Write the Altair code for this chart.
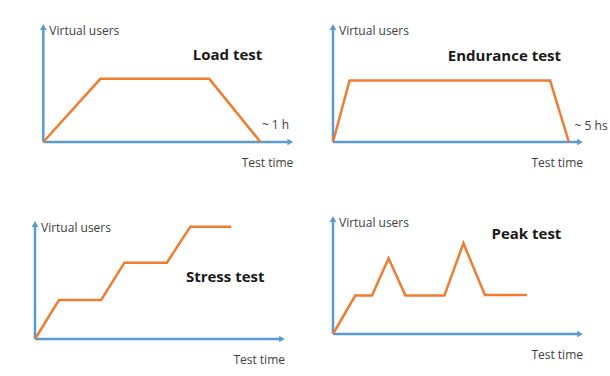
import altair as alt
import pandas as pd

FONT = "Open Sans"
ORANGE = "#ED7D31"
BLUE = "#5B9BD5"
GRAY = "#404040"
DARK = "#1A1A1A"

# ---- data (time and users as % of each axis length) ----
LOAD_T = [0, 23.1, 67.2, 87.9]
LOAD_U = [0, 54.9, 54.9, 0]

END_T = [0, 6.7, 87.9, 95.5]
END_U = [0, 53.4, 53.4, 0]

STRESS_T = [0, 9.7, 26.8, 36.2, 53.4, 62.9, 79.5]
STRESS_U = [0, 33.9, 33.9, 66.4, 66.4, 97.7, 97.7]

PEAK_T = [0, 9.0, 15.8, 22.5, 29.3, 45.1, 52.8, 61.5, 78.5]
PEAK_U = [0, 33.4, 33.4, 65.8, 33.4, 33.4, 78.9, 33.9, 33.9]

TITLES = ["Load test", "Endurance test", "Stress test", "Peak test"]
TITLE_T = [74.6, 69.4, 77.0, 78.3]
TITLE_U = [71.6, 70.7, 49.6, 83.0]

NOTES = ["~ 1 h", "~ 5 hs"]
NOTE_T = [88.5, 97.8]
NOTE_U = [11.0, 10.4]

AXIS_END = 100
Y_TITLE = "Virtual users"
X_TITLE = "Test time"

W, H = 247, 115


def panel(ts, us, title, title_t, title_u, note=None, note_t=None, note_u=None, x_lo=0.0):
    xs = alt.Scale(domain=[x_lo, AXIS_END], nice=False, zero=False)
    ys = alt.Scale(domain=[0, AXIS_END], nice=False, zero=False)

    def X(f):
        return alt.X(f, type="quantitative", scale=xs, axis=None)

    def Y(f):
        return alt.Y(f, type="quantitative", scale=ys, axis=None)

    # axes (rules) and arrowheads
    axis_df = pd.DataFrame({"t": [0, 0], "u": [0, 0],
                            "t2": [AXIS_END, 0], "u2": [0, AXIS_END]})
    axes = alt.Chart(axis_df).mark_rule(color=BLUE, strokeWidth=2.5).encode(
        x=X("t"), y=Y("u"), x2=alt.X2("t2"), y2=alt.Y2("u2")
    )
    arrow_df = pd.DataFrame({"t": [AXIS_END, 0], "u": [0, AXIS_END],
                             "shape": ["triangle-right", "triangle-up"]})
    arrows = alt.Chart(arrow_df).mark_point(
        filled=True, color=BLUE, size=45, opacity=1, strokeWidth=0
    ).encode(x=X("t"), y=Y("u"), shape=alt.Shape("shape:N", scale=None))

    # axis labels
    ylab = alt.Chart(pd.DataFrame({"t": [0], "u": [AXIS_END], "label": [Y_TITLE]})).mark_text(
        font=FONT, fontSize=12, align="left", baseline="alphabetic", color=GRAY, dx=6, dy=7.5
    ).encode(x=X("t"), y=Y("u"), text="label:N")
    xlab = alt.Chart(pd.DataFrame({"t": [AXIS_END], "u": [0], "label": [X_TITLE]})).mark_text(
        font=FONT, fontSize=12, align="right", baseline="alphabetic", color=GRAY, dx=3, dy=24.5
    ).encode(x=X("t"), y=Y("u"), text="label:N")

    # the load profile
    line_df = pd.DataFrame({"t": ts, "u": us, "i": list(range(len(ts)))})
    line = alt.Chart(line_df).mark_line(color=ORANGE, strokeWidth=2.5).encode(
        x=X("t"), y=Y("u"), order="i:Q"
    )

    title_df = pd.DataFrame({"t": [title_t], "u": [title_u], "label": [title]})
    ttl = alt.Chart(title_df).mark_text(
        font=FONT, fontSize=15, fontWeight="bold", align="center",
        baseline="alphabetic", color=DARK
    ).encode(x=X("t"), y=Y("u"), text="label:N")

    layers = [axes, arrows, ylab, xlab, line, ttl]
    if note:
        note_df = pd.DataFrame({"t": [note_t], "u": [note_u], "label": [note]})
        layers.append(alt.Chart(note_df).mark_text(
            font=FONT, fontSize=12, align="left", baseline="alphabetic", color=GRAY
        ).encode(x=X("t"), y=Y("u"), text="label:N"))
    width = W * (AXIS_END - x_lo) / AXIS_END
    return alt.layer(*layers).properties(width=width, height=H)


p1 = panel(LOAD_T, LOAD_U, TITLES[0], TITLE_T[0], TITLE_U[0], NOTES[0], NOTE_T[0], NOTE_U[0], x_lo=-3.36)
p2 = panel(END_T, END_U, TITLES[1], TITLE_T[1], TITLE_U[1], NOTES[1], NOTE_T[1], NOTE_U[1])
p3 = panel(STRESS_T, STRESS_U, TITLES[2], TITLE_T[2], TITLE_U[2])
p4 = panel(PEAK_T, PEAK_U, TITLES[3], TITLE_T[3], TITLE_U[3])

left = alt.vconcat(p1, p3, spacing=52)
right = alt.vconcat(p2, p4, spacing=47)

chart = alt.hconcat(left, right, spacing=34).properties(
    padding={"left": 30, "top": 24, "right": 0, "bottom": 10},
    background="white",
).configure_view(stroke=None)

chart.save("out.html", embed_options={"renderer": "svg", "actions": False})
